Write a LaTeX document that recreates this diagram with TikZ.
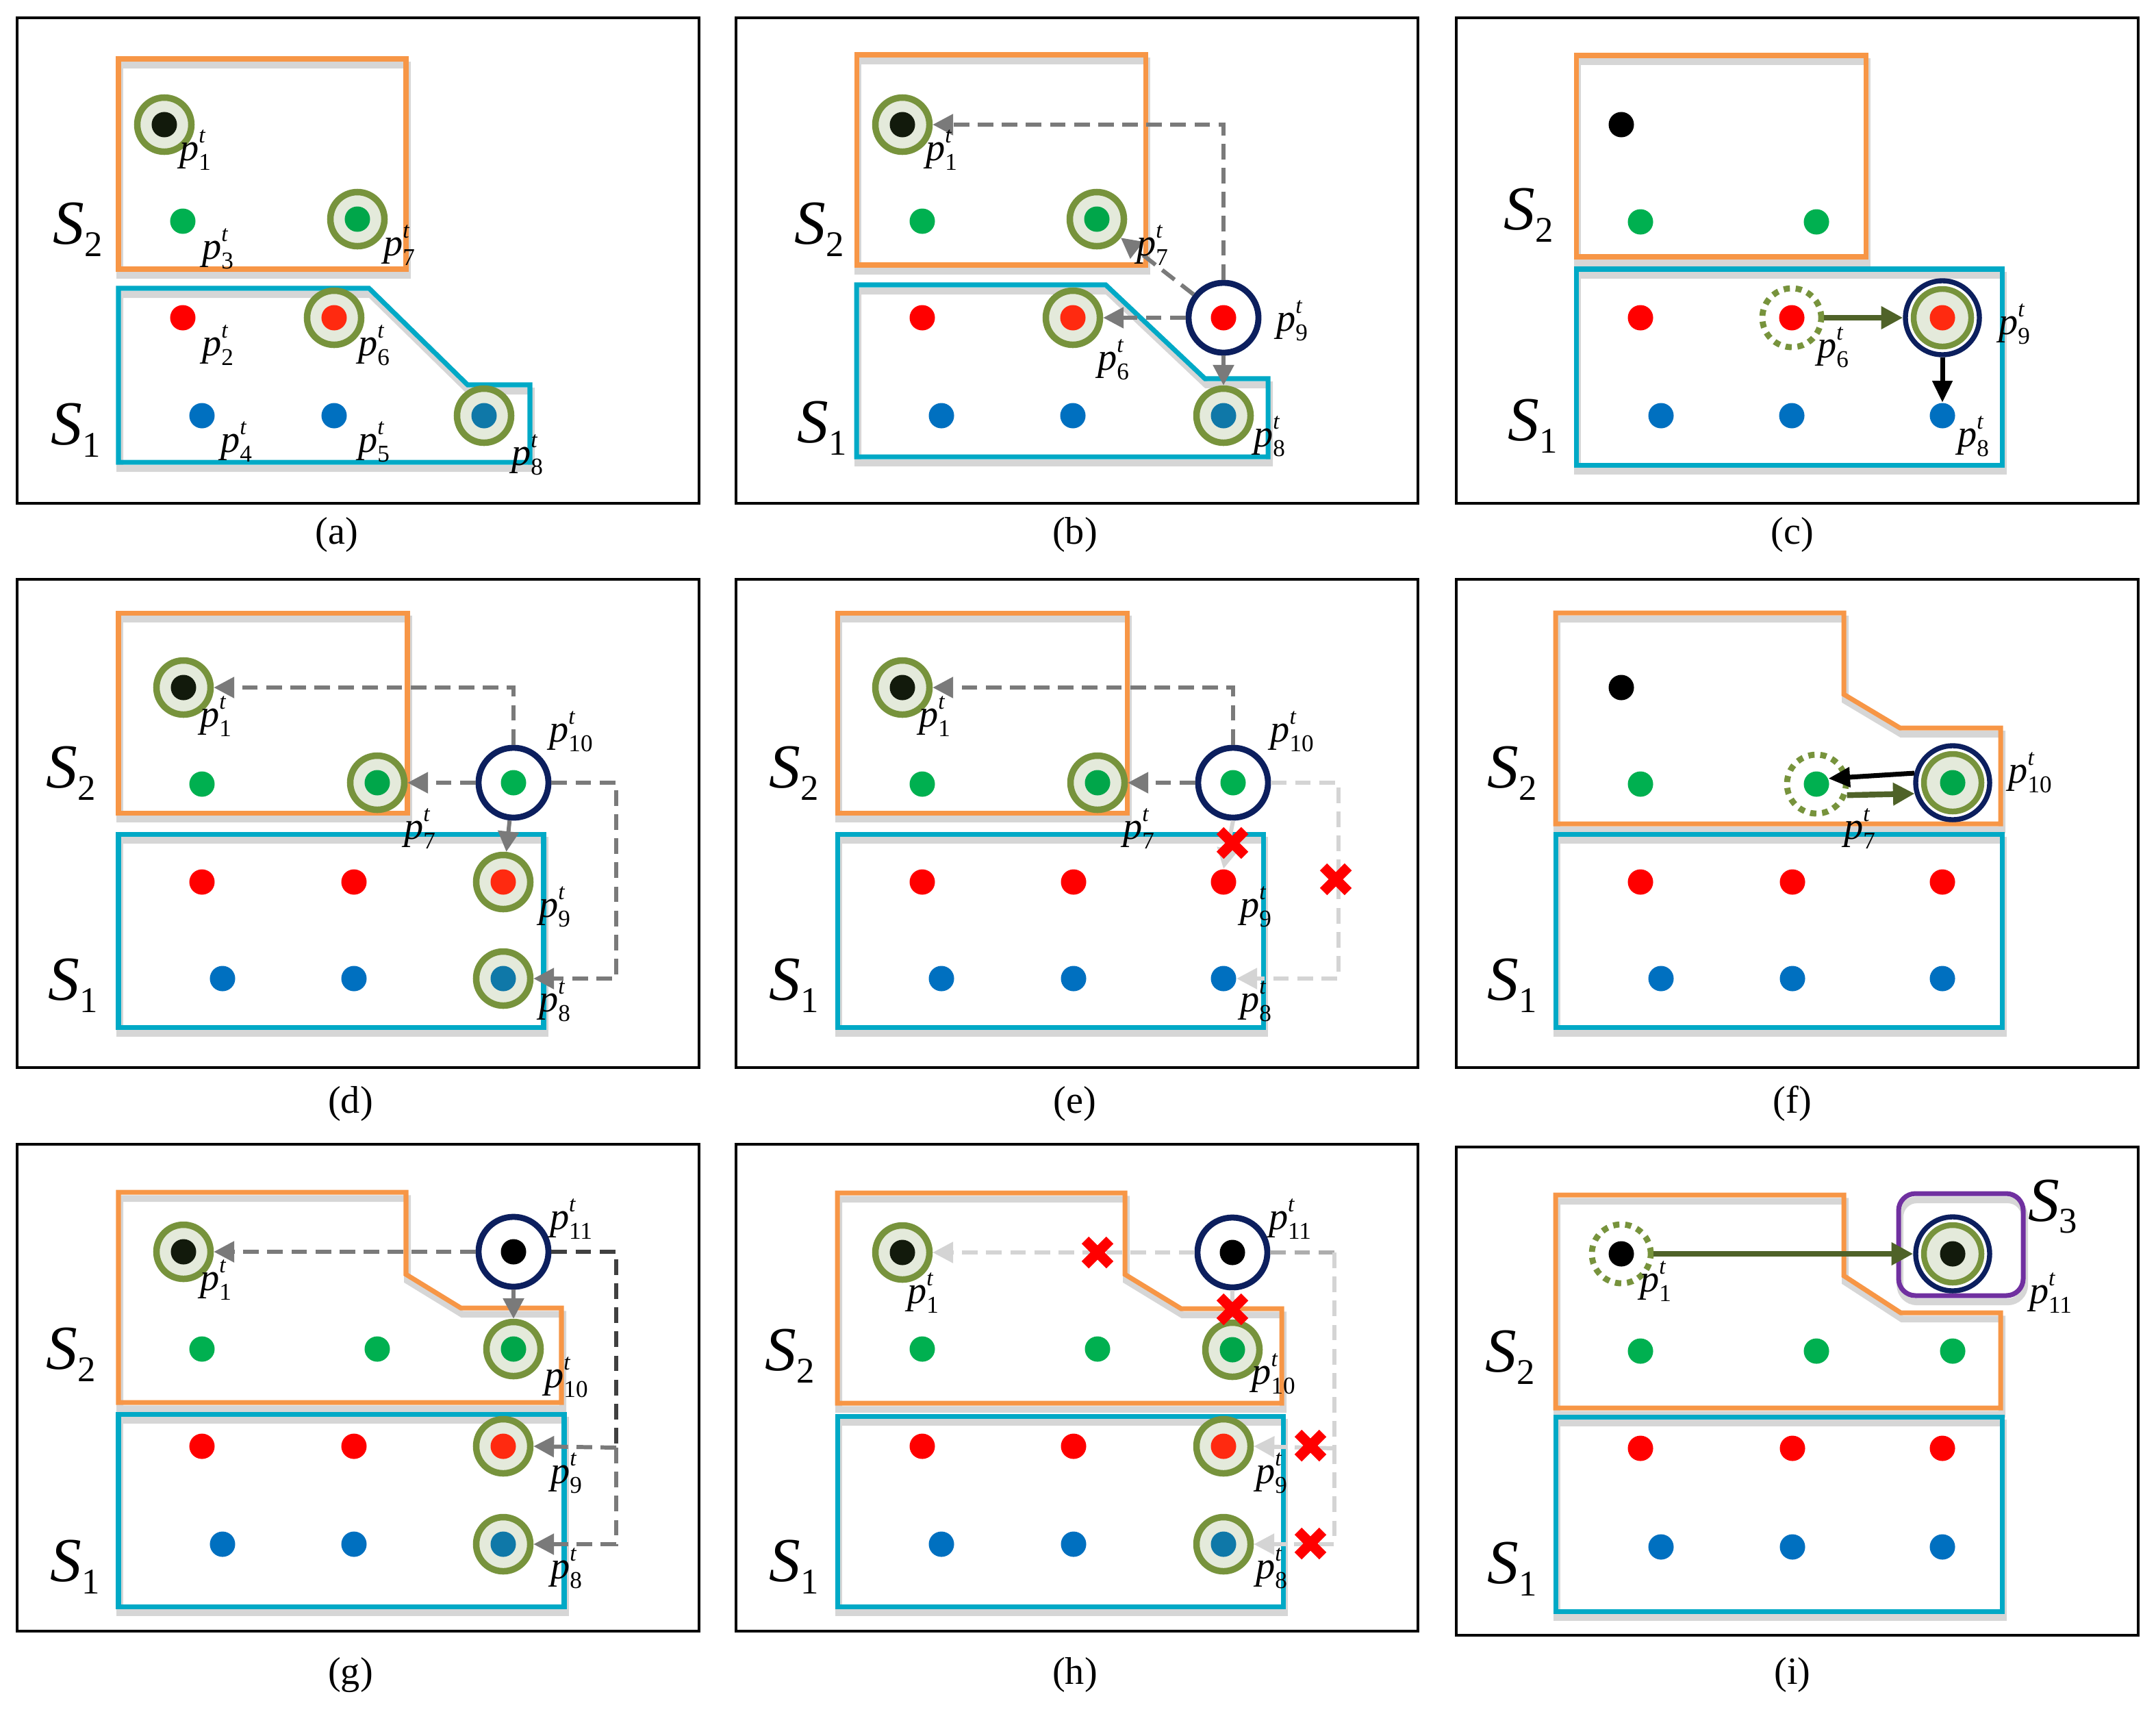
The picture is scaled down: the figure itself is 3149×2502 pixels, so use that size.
\documentclass[tikz,border=0pt]{standalone}
\usepackage{fontspec}
\setmainfont{Liberation Serif}
\usetikzlibrary{arrows.meta}
\definecolor{orgC}{HTML}{F79646}
\definecolor{cyanC}{HTML}{00A9C6}
\definecolor{ringG}{HTML}{77933C}
\definecolor{ringF}{HTML}{E4EADB}
\definecolor{navyC}{HTML}{0C1F5E}
\definecolor{grayC}{HTML}{7A7A7A}
\definecolor{lightC}{HTML}{D4D4D4}
\definecolor{midC}{HTML}{ADADAD}
\definecolor{darkC}{HTML}{404040}
\definecolor{oliveD}{HTML}{4F6228}
\definecolor{xred}{HTML}{FF0000}
\definecolor{dK}{HTML}{000000}
\definecolor{dKr}{HTML}{121A0C}
\definecolor{dG}{HTML}{00B050}
\definecolor{dGr}{HTML}{00A64A}
\definecolor{dR}{HTML}{FF0000}
\definecolor{dRr}{HTML}{FF2A10}
\definecolor{dB}{HTML}{0070C0}
\definecolor{dBr}{HTML}{0F78A8}
\definecolor{purpC}{HTML}{7030A0}
\newcommand{\PL}[1]{\textit{p}\rlap{\raisebox{7.5pt}{\fontsize{9.5}{9.5}\selectfont\textit{t}}}\raisebox{-4pt}{\fontsize{10}{10}\selectfont #1}}
\newcommand{\SL}[1]{{\fontsize{26}{26}\selectfont\textit{S}}\raisebox{-5pt}{\fontsize{15}{15}\selectfont #1}}
\newcommand{\RingPt}[3]{\node[ringst] (#1) at (#2) {}; \node[pdot,fill=#3] (#1d) at (#2) {};}
\newcommand{\DotPt}[3]{\node[pdot,fill=#3] (#1) at (#2) {};}
\newcommand{\NavyPt}[3]{\node[nring] (#1) at (#2) {}; \node[pdot,fill=#3] (#1d) at (#2) {};}
\newcommand{\NavyRingPt}[3]{\node[nringb] (#1n) at (#2) {}; \node[ringin] (#1) at (#2) {}; \node[pdot,fill=#3] (#1d) at (#2) {};}
\newcommand{\DotRingPt}[3]{\node[dring] (#1r) at (#2) {}; \node[pdot,fill=#3] (#1) at (#2) {};}
\begin{document}
\begin{tikzpicture}[x=0.01cm,y=-0.01cm,
 panelbox/.style={draw=black,line width=1.1pt},
 orng/.style={draw=orgC,line width=2pt},
 blu/.style={draw=cyanC,line width=2pt},
 shad/.style={draw=black,opacity=0.16,line width=2.8pt,xshift=0.6pt,yshift=-2.6pt},
 pdot/.style={circle,inner sep=0pt,minimum size=0.37cm},
 ringst/.style={circle,draw=ringG,fill=ringF,line width=2.7pt,inner sep=0pt,minimum size=0.79cm},
 ringin/.style={ringst,minimum size=0.84cm,line width=2.4pt},
 nring/.style={circle,draw=navyC,fill=white,line width=2.5pt,inner sep=0pt,minimum size=1.02cm},
 nringb/.style={nring,minimum size=1.08cm,line width=2.1pt},
 dring/.style={circle,draw=ringG,line width=2.5pt,dash pattern=on 2.6pt off 2.4pt,inner sep=0pt,minimum size=0.86cm},
 arrtip/.style={-{Triangle[length=8.5pt,width=8.5pt]}},
 gdash/.style={draw=grayC,line width=1.7pt,dash pattern=on 6.5pt off 3.5pt,arrtip},
 garr/.style={draw=grayC,line width=1.7pt,arrtip},
 ldash/.style={draw=lightC,line width=1.7pt,dash pattern=on 6.5pt off 3.5pt,arrtip},
 lline/.style={draw=lightC,line width=1.7pt,dash pattern=on 6.5pt off 3.5pt},
 larr/.style={draw=lightC,line width=1.7pt,arrtip},
 mline/.style={draw=midC,line width=1.7pt,dash pattern=on 6.5pt off 3.5pt},
 ddash/.style={draw=darkC,line width=1.7pt,dash pattern=on 6.5pt off 3.5pt},
 oarr/.style={draw=oliveD,line width=2.4pt,-{Triangle[length=9pt,width=9pt]}},
 karr/.style={draw=black,line width=2pt,-{Triangle[length=9pt,width=8pt]}},
 plab/.style={inner sep=0pt,font=\fontsize{16}{16}\selectfont},
 slab/.style={inner sep=0pt},
 captxt/.style={inner sep=0pt,font=\fontsize{16}{16}\selectfont},
 xcross/.pic={\draw[xred,line width=4.2pt] (-18,-18) -- (18,18) (-18,18) -- (18,-18);}
]
\fill[white] (0,0) rectangle (3149,2502);
\useasboundingbox (0,0) rectangle (3149,2502);

% panel frames
\draw[panelbox] (25,26) rectangle (1021,735);
\draw[panelbox] (1075,26) rectangle (2071,735);
\draw[panelbox] (2127,26) rectangle (3123,735);
\draw[panelbox] (25,846) rectangle (1021,1559);
\draw[panelbox] (1075,846) rectangle (2071,1559);
\draw[panelbox] (2127,846) rectangle (3123,1559);
\draw[panelbox] (25,1671) rectangle (1021,2382);
\draw[panelbox] (1075,1671) rectangle (2071,2382);
\draw[panelbox] (2127,1675) rectangle (3123,2388);

% captions
\node[captxt] (capa) at (492,781) {(a)};
\node[captxt] (capb) at (1570,781) {(b)};
\node[captxt] (capc) at (2618,781) {(c)};
\node[captxt] (capd) at (512,1612) {(d)};
\node[captxt] (cape) at (1570,1612) {(e)};
\node[captxt] (capf) at (2618,1612) {(f)};
\node[captxt] (capg) at (512,2446) {(g)};
\node[captxt] (caph) at (1570,2446) {(h)};
\node[captxt] (capi) at (2618,2446) {(i)};

% ---------------- (a)
\begin{scope}[shift={(25,26)}]
\draw[shad] (148,60) rectangle (568,367);
\draw[orng] (148,60) rectangle (568,367);
\draw[shad] (148,395) -- (514,395) -- (658,536) -- (749,536) -- (749,649) -- (148,649) -- cycle;
\draw[blu] (148,395) -- (514,395) -- (658,536) -- (749,536) -- (749,649) -- (148,649) -- cycle;
\RingPt{a1}{215,156}{dKr}
\DotPt{a3}{242,297}{dG}
\RingPt{a7}{497,294}{dGr}
\DotPt{a2}{242,438}{dR}
\RingPt{a6}{463,438}{dRr}
\DotPt{a4}{270,581}{dB}
\DotPt{a5}{463,581}{dB}
\RingPt{a8}{682,581}{dBr}
\node[plab] (a1l) at (260,193) {\PL{1}};
\node[plab] (a3l) at (293,337) {\PL{3}};
\node[plab] (a7l) at (558,332) {\PL{7}};
\node[plab] (a2l) at (293,478) {\PL{2}};
\node[plab] (a6l) at (521,478) {\PL{6}};
\node[plab] (a4l) at (320,619) {\PL{4}};
\node[plab] (a5l) at (521,619) {\PL{5}};
\node[plab] (a8l) at (745,638) {\PL{8}};
\node[slab] (aS2) at (89,309) {\SL{2}};
\node[slab] (aS1) at (86,602) {\SL{1}};
\end{scope}

% ---------------- (b)
\begin{scope}[shift={(1075,26)}]
\draw[shad] (176,54) rectangle (598,361);
\draw[orng] (176,54) rectangle (598,361);
\draw[shad] (176,390) -- (540,390) -- (685,527) -- (777,527) -- (777,641) -- (176,641) -- cycle;
\draw[blu] (176,390) -- (540,390) -- (685,527) -- (777,527) -- (777,641) -- (176,641) -- cycle;
\RingPt{b1}{243,156}{dKr}
\DotPt{b3}{272,297}{dG}
\RingPt{b7}{527,294}{dGr}
\DotPt{b2}{272,438}{dR}
\RingPt{b6}{492,438}{dRr}
\NavyPt{b9}{712,438}{dR}
\DotPt{b4}{300,581}{dB}
\DotPt{b5}{492,581}{dB}
\RingPt{b8}{712,581}{dBr}
\draw[gdash] (b9.north) |- (b1.east);
\draw[gdash] (b9) -- (b7);
\draw[gdash] (b9.west) -- (b6.east);
\draw[garr] (b9.south) -- (b8.north);
\node[plab] (b1l) at (300,193) {\PL{1}};
\node[plab] (b7l) at (608,332) {\PL{7}};
\node[plab] (b6l) at (551,499) {\PL{6}};
\node[plab] (b9l) at (812,442) {\PL{9}};
\node[plab] (b8l) at (779,611) {\PL{8}};
\node[slab] (bS2) at (122,309) {\SL{2}};
\node[slab] (bS1) at (126,599) {\SL{1}};
\end{scope}

% ---------------- (c)
\begin{scope}[shift={(2127,26)}]
\draw[shad] (175,55) rectangle (598,349);
\draw[orng] (175,55) rectangle (598,349);
\draw[shad] (175,367) rectangle (797,653);
\draw[blu] (175,367) rectangle (797,653);
\DotPt{c1}{241,156}{dK}
\DotPt{c3}{269,298}{dG}
\DotPt{c7}{526,298}{dG}
\DotPt{c2}{269,438}{dR}
\DotRingPt{c6}{490,438}{dR}
\NavyRingPt{c9}{710,438}{dRr}
\DotPt{c4}{299,581}{dB}
\DotPt{c5}{490,581}{dB}
\DotPt{c8}{710,581}{dB}
\draw[oarr] (c6r.east) -- (c9n.west);
\draw[karr] (c9n.south) -- (c8.north);
\node[plab] (c6l) at (550,481) {\PL{6}};
\node[plab] (c9l) at (815,447) {\PL{9}};
\node[plab] (c8l) at (755,611) {\PL{8}};
\node[slab] (cS2) at (106,288) {\SL{2}};
\node[slab] (cS1) at (112,596) {\SL{1}};
\end{scope}

% ---------------- (d)
\begin{scope}[shift={(25,846)}]
\draw[shad] (148,49) rectangle (570,341);
\draw[orng] (148,49) rectangle (570,341);
\draw[shad] (148,372) rectangle (769,654);
\draw[blu] (148,372) rectangle (769,654);
\RingPt{d1}{243,158}{dKr}
\DotPt{d3}{270,299}{dG}
\RingPt{d7}{526,297}{dGr}
\NavyPt{d10}{725,297}{dG}
\DotPt{d2}{270,442}{dR}
\DotPt{d6}{492,442}{dR}
\RingPt{d9}{710,442}{dRr}
\DotPt{d4}{300,583}{dB}
\DotPt{d5}{492,583}{dB}
\RingPt{d8}{710,583}{dBr}
\coordinate (dc) at (875,297);
\draw[gdash] (d10.north) |- (d1.east);
\draw[gdash] (d10.west) -- (d7.east);
\draw[garr] (d10) -- (d9);
\draw[gdash] (d10.east) -- (dc) |- (d8.east);
\node[plab] (d10l) at (809,222) {\PL{10}};
\node[plab] (d1l) at (290,200) {\PL{1}};
\node[plab] (d7l) at (588,364) {\PL{7}};
\node[plab] (d9l) at (785,478) {\PL{9}};
\node[plab] (d8l) at (785,616) {\PL{8}};
\node[slab] (dS2) at (79,283) {\SL{2}};
\node[slab] (dS1) at (82,593) {\SL{1}};
\end{scope}

% ---------------- (e)
\begin{scope}[shift={(1075,846)}]
\draw[shad] (148,49) rectangle (571,341);
\draw[orng] (148,49) rectangle (571,341);
\draw[shad] (148,372) rectangle (770,654);
\draw[blu] (148,372) rectangle (770,654);
\RingPt{e1}{243,158}{dKr}
\DotPt{e3}{272,299}{dG}
\RingPt{e7}{528,297}{dGr}
\NavyPt{e10}{726,297}{dG}
\DotPt{e2}{272,442}{dR}
\DotPt{e6}{493,442}{dR}
\DotPt{e9}{712,442}{dR}
\DotPt{e4}{300,583}{dB}
\DotPt{e5}{493,583}{dB}
\DotPt{e8}{712,583}{dB}
\coordinate (ec) at (880,297);
\draw[gdash] (e10.north) |- (e1.east);
\draw[gdash] (e10.west) -- (e7.east);
\draw[larr] (e10.south) -- (e9.north);
\draw[ldash] (e10.east) -- (ec) |- (e8.east);
\pic at (725,385) {xcross};
\pic at (876,438) {xcross};
\node[plab] (e10l) at (812,222) {\PL{10}};
\node[plab] (e1l) at (290,200) {\PL{1}};
\node[plab] (e7l) at (588,364) {\PL{7}};
\node[plab] (e9l) at (759,478) {\PL{9}};
\node[plab] (e8l) at (759,616) {\PL{8}};
\node[slab] (eS2) at (85,283) {\SL{2}};
\node[slab] (eS1) at (85,593) {\SL{1}};
\end{scope}

% ---------------- (f)
\begin{scope}[shift={(2127,846)}]
\draw[shad] (145,49) -- (566,49) -- (566,168) -- (648,217) -- (795,217) -- (795,357) -- (145,357) -- cycle;
\draw[orng] (145,49) -- (566,49) -- (566,168) -- (648,217) -- (795,217) -- (795,357) -- (145,357) -- cycle;
\draw[shad] (145,372) rectangle (797,654);
\draw[blu] (145,372) rectangle (797,654);
\DotPt{f1}{241,158}{dK}
\DotPt{f3}{269,299}{dG}
\DotRingPt{f7}{526,299}{dG}
\NavyRingPt{f10}{725,297}{dGr}
\DotPt{f2}{269,442}{dR}
\DotPt{f6}{491,442}{dR}
\DotPt{f9}{710,442}{dR}
\DotPt{f4}{299,583}{dB}
\DotPt{f5}{491,583}{dB}
\DotPt{f8}{710,583}{dB}
\draw[karr] (f10n.166) -- (f7.25);
\draw[oarr] (f7r.-20) -- (f10n.196);
\node[plab] (f10l) at (838,282) {\PL{10}};
\node[plab] (f7l) at (589,364) {\PL{7}};
\node[slab] (fS2) at (82,283) {\SL{2}};
\node[slab] (fS1) at (82,593) {\SL{1}};
\end{scope}

% ---------------- (g)
\begin{scope}[shift={(25,1671)}]
\draw[shad] (148,70) -- (568,70) -- (568,190) -- (648,239) -- (795,239) -- (795,377) -- (148,377) -- cycle;
\draw[orng] (148,70) -- (568,70) -- (568,190) -- (648,239) -- (795,239) -- (795,377) -- (148,377) -- cycle;
\draw[shad] (148,394) rectangle (799,675);
\draw[blu] (148,394) rectangle (799,675);
\RingPt{g1}{243,157}{dKr}
\NavyPt{g11}{725,157}{dK}
\DotPt{g3}{270,299}{dG}
\DotPt{g7}{526,299}{dG}
\RingPt{g10}{725,299}{dGr}
\DotPt{g2}{270,441}{dR}
\DotPt{g6}{492,441}{dR}
\RingPt{g9}{710,441}{dRr}
\DotPt{g4}{300,584}{dB}
\DotPt{g5}{492,584}{dB}
\RingPt{g8}{710,584}{dBr}
\coordinate (gca) at (875,157);
\coordinate (gcb) at (875,443);
\coordinate (gcc) at (875,584);
\draw[gdash] (g11.west) -- (g1.east);
\draw[garr] (g11.south) -- (g10.north);
\draw[ddash] (g11.east) -- (gca) -- (gcb);
\draw[gdash] (gcb) -- (gcc) -- (g8.east);
\draw[gdash] (gcb) -- (g9.east);
\node[plab] (g11l) at (809,109) {\PL{11}};
\node[plab] (g1l) at (290,198) {\PL{1}};
\node[plab] (g10l) at (802,340) {\PL{10}};
\node[plab] (g9l) at (802,480) {\PL{9}};
\node[plab] (g8l) at (802,619) {\PL{8}};
\node[slab] (gS2) at (79,307) {\SL{2}};
\node[slab] (gS1) at (85,617) {\SL{1}};
\end{scope}

% ---------------- (h)
\begin{scope}[shift={(1075,1671)}]
\draw[shad] (148,71) -- (568,71) -- (568,190) -- (650,240) -- (797,240) -- (797,378) -- (148,378) -- cycle;
\draw[orng] (148,71) -- (568,71) -- (568,190) -- (650,240) -- (797,240) -- (797,378) -- (148,378) -- cycle;
\draw[shad] (148,397) rectangle (799,675);
\draw[blu] (148,397) rectangle (799,675);
\RingPt{h1}{243,158}{dKr}
\NavyPt{h11}{725,158}{dK}
\DotPt{h3}{272,299}{dG}
\DotPt{h7}{528,299}{dG}
\RingPt{h10}{725,300}{dGr}
\DotPt{h2}{272,441}{dR}
\DotPt{h6}{493,441}{dR}
\RingPt{h9}{712,441}{dRr}
\DotPt{h4}{300,584}{dB}
\DotPt{h5}{493,584}{dB}
\RingPt{h8}{712,584}{dBr}
\coordinate (hca) at (874,158);
\coordinate (hcb) at (874,444);
\coordinate (hcc) at (874,584);
\draw[ldash] (h11.west) -- (h1.east);
\draw[larr] (h11.south) -- (h10.north);
\draw[mline] (h11.east) -- (hca);
\draw[lline] (hca) -- (hcb);
\draw[ldash] (hcb) -- (hcc) -- (h8.east);
\draw[ldash] (hcb) -- (h9.east);
\pic at (528,158) {xcross};
\pic at (725,241) {xcross};
\pic at (839,440) {xcross};
\pic at (839,583) {xcross};
\node[plab] (h11l) at (809,109) {\PL{11}};
\node[plab] (h1l) at (273,217) {\PL{1}};
\node[plab] (h10l) at (785,335) {\PL{10}};
\node[plab] (h9l) at (782,480) {\PL{9}};
\node[plab] (h8l) at (782,619) {\PL{8}};
\node[slab] (hS2) at (79,309) {\SL{2}};
\node[slab] (hS1) at (85,617) {\SL{1}};
\end{scope}

% ---------------- (i)
\begin{scope}[shift={(2127,1675)}]
\draw[shad] (145,70) -- (566,70) -- (566,188) -- (649,242) -- (795,242) -- (795,381) -- (145,381) -- cycle;
\draw[orng] (145,70) -- (566,70) -- (566,188) -- (649,242) -- (795,242) -- (795,381) -- (145,381) -- cycle;
\draw[shad] (145,394) rectangle (797,678);
\draw[blu] (145,394) rectangle (797,678);
\draw[shad,rounded corners=7pt] (646,68) rectangle (828,217);
\draw[draw=purpC,line width=2pt,rounded corners=7pt] (646,68) rectangle (828,217);
\DotRingPt{i1}{241,156}{dK}
\NavyRingPt{i11}{725,156}{dKr}
\DotPt{i3}{269,298}{dG}
\DotPt{i7}{526,298}{dG}
\DotPt{i10}{725,298}{dG}
\DotPt{i2}{269,440}{dR}
\DotPt{i6}{491,440}{dR}
\DotPt{i9}{710,440}{dR}
\DotPt{i4}{299,584}{dB}
\DotPt{i5}{491,584}{dB}
\DotPt{i8}{710,584}{dB}
\draw[oarr] (i1r.east) -- (i11n.west);
\node[plab] (i1l) at (291,196) {\PL{1}};
\node[plab] (i11l) at (868,213) {\PL{11}};
\node[slab] (iS3) at (871,87) {\SL{3}};
\node[slab] (iS2) at (79,307) {\SL{2}};
\node[slab] (iS1) at (82,616) {\SL{1}};
\end{scope}
\end{tikzpicture}
\end{document}
